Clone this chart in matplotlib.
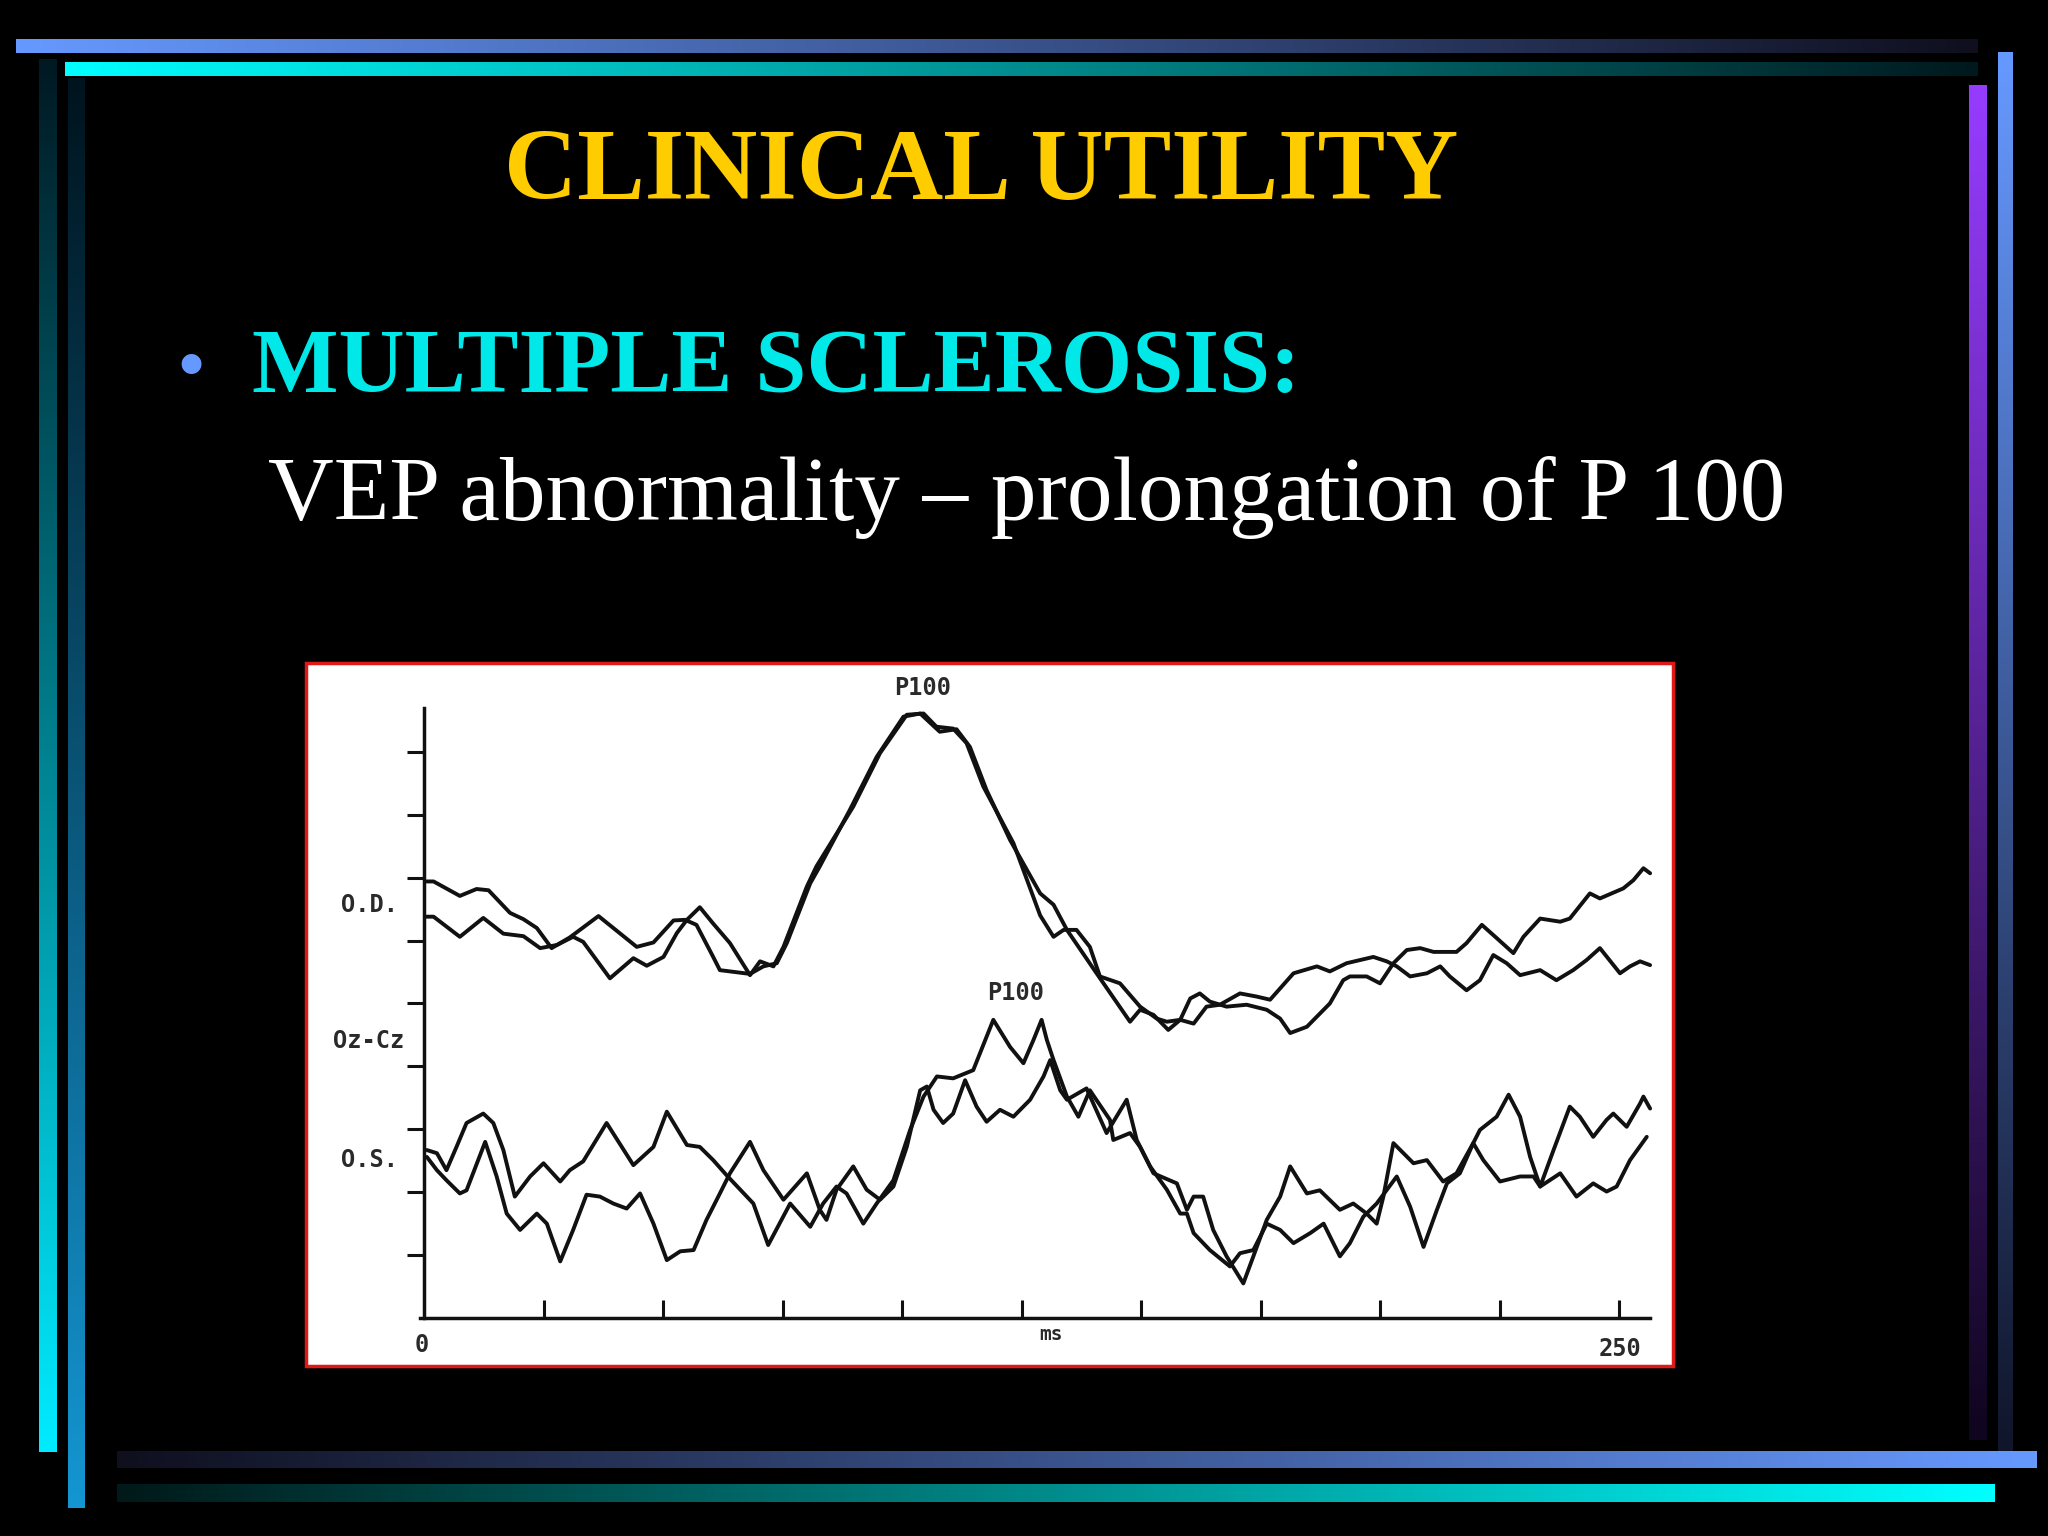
import numpy as np
import matplotlib
matplotlib.use('Agg')
import matplotlib.pyplot as plt
from matplotlib.patches import Rectangle

# VEP traces, time in ms, amplitude in axis-tick units
od_a_t = [0.5, 2.0, 7.5, 11.0, 13.5, 18.0, 20.8, 23.6, 26.7, 30.5, 36.5, 44.5, 48.0,
          52.2, 54.6, 57.0, 60.5, 61.9, 64.0, 68.2, 71.0, 73.8, 75.9, 80.8, 82.8,
          89.1, 94.7, 100.3, 103.8, 107.9, 111.4, 114.2, 117.7, 122.6, 128.9, 131.7,
          134.5, 140.7, 147.7, 149.8, 152.6, 155.7, 158.2, 160.3, 162.3, 164.4, 167.9,
          172.1, 176.3, 179.1, 181.2, 184.7, 189.5, 192.3, 193.7, 197.2, 200.0, 202.8,
          205.6, 208.4, 211.2, 216.0, 218.1, 221.3, 224.4, 227.9, 230.0, 233.5, 237.7,
          239.7, 243.9, 246.0, 250.9, 253.0, 255.1, 256.5]
od_a_y = [6.94, 6.94, 6.71, 6.82, 6.80, 6.44, 6.34, 6.20, 5.88, 6.05, 6.39, 5.90, 5.97,
          6.32, 6.33, 6.25, 5.74, 5.53, 5.51, 5.47, 5.59, 5.64, 5.96, 6.91, 7.18,
          8.08, 8.92, 9.56, 9.61, 9.32, 9.36, 9.08, 8.39, 7.60, 6.75, 6.57,
          6.17, 5.48, 4.71, 4.90, 4.82, 4.58, 4.74, 5.08, 5.16, 5.03, 4.95,
          4.98, 4.90, 4.76, 4.53, 4.63, 5.00, 5.37, 5.43, 5.43, 5.32, 5.64,
          5.85, 5.88, 5.82, 5.82, 5.96, 6.25, 6.04, 5.80, 6.06, 6.35, 6.30,
          6.35, 6.75, 6.67, 6.83, 6.96, 7.15, 7.07]

od_b_t = [0.5, 2.0, 7.5, 12.4, 16.6, 20.8, 24.3, 27.8, 31.2, 33.3, 38.9, 43.8, 46.6,
          50.1, 52.9, 55.0, 57.7, 60.5, 64.0, 68.2, 70.3, 73.1, 75.2, 80.1, 82.1,
          89.8, 95.4, 101.0, 104.5, 107.2, 110.7, 113.5, 117.0, 123.3, 128.9, 131.7,
          133.8, 136.5, 139.3, 141.4, 145.6, 149.8, 153.3, 155.4, 158.2, 161.0, 163.7,
          166.5, 170.7, 174.2, 177.0, 181.9, 186.8, 189.5, 193.0, 198.6, 201.4, 203.5,
          206.3, 209.8, 212.6, 214.6, 218.1, 220.9, 223.7, 226.5, 229.3, 233.5, 236.9,
          240.4, 243.2, 246.0, 250.2, 252.3, 254.4, 256.5]
od_b_y = [6.38, 6.38, 6.06, 6.36, 6.11, 6.07, 5.88, 5.93, 6.06, 5.98, 5.40, 5.72, 5.60,
          5.74, 6.12, 6.33, 6.53, 6.27, 5.96, 5.45, 5.67, 5.59, 5.90, 6.86, 7.18,
          8.13, 8.98, 9.59, 9.61, 9.40, 9.37, 9.14, 8.45, 7.55, 6.40, 6.06,
          6.17, 6.17, 5.90, 5.43, 5.32, 4.95, 4.76, 4.71, 4.74, 4.68, 4.95,
          4.98, 5.16, 5.11, 5.06, 5.48, 5.59, 5.51, 5.64, 5.74, 5.67, 5.59,
          5.43, 5.48, 5.59, 5.43, 5.21, 5.37, 5.77, 5.64, 5.45, 5.53, 5.37,
          5.53, 5.69, 5.88, 5.48, 5.59, 5.67, 5.61]

os_a_t = [0.6, 2.7, 4.7, 6.8, 8.9, 12.4, 14.5, 16.6, 19.0, 22.2, 25.0, 28.5, 30.5,
          33.3, 38.2, 43.8, 48.0, 50.8, 55.0, 57.7, 60.5, 63.3, 68.9, 72.0, 76.6,
          80.8, 83.5, 86.3, 88.4, 91.9, 94.7, 98.2, 101.7, 104.5, 107.3, 110.7, 114.9,
          119.1, 122.6, 125.4, 127.5, 129.2, 130.3, 131.7, 134.5, 136.9, 139.3, 143.5,
          144.2, 147.7, 149.8, 152.6, 157.5, 159.6, 161.0, 163.0, 165.1, 167.9, 171.4,
          173.5, 176.3, 179.1, 181.2, 184.7, 187.4, 191.6, 194.4, 197.2, 199.3, 200.7,
          202.8, 207.0, 209.8, 213.2, 216.0, 219.5, 220.9, 224.4, 226.9, 229.3, 231.4,
          233.5, 236.3, 239.7, 241.8, 244.6, 247.4, 248.8, 251.6, 254.4, 255.1, 256.5]
os_a_y = [2.67, 2.62, 2.35, 2.72, 3.10, 3.25, 3.10, 2.67, 1.93, 2.25, 2.46, 2.17, 2.35,
          2.49, 3.10, 2.43, 2.72, 3.28, 2.75, 2.72, 2.51, 2.27, 1.82, 1.16, 1.82,
          1.45, 1.82, 2.09, 1.98, 1.50, 1.82, 2.19, 2.99, 3.52, 3.84, 3.81, 3.94,
          4.74, 4.31, 4.05, 4.42, 4.74, 4.42, 4.10, 3.52, 3.20, 3.62, 3.15,
          2.83, 2.94, 2.72, 2.30, 2.14, 1.72, 1.93, 1.93, 1.40, 0.98, 0.55,
          0.98, 1.56, 1.93, 2.41, 1.98, 2.03, 1.72, 1.82, 1.66, 1.50, 1.93,
          2.78, 2.46, 2.51, 2.17, 2.30, 2.78, 2.99, 3.20, 3.55, 3.20, 2.56,
          2.09, 2.67, 3.36, 3.20, 2.88, 3.15, 3.25, 3.04, 3.41, 3.52, 3.33]

os_b_t = [0.6, 2.7, 4.7, 7.5, 8.9, 12.8, 15.2, 17.3, 20.1, 23.6, 25.7, 28.5, 31.2,
          34.0, 36.8, 39.6, 42.4, 45.2, 48.0, 50.8, 53.6, 56.4, 59.1, 61.9, 64.0,
          68.2, 71.0, 75.2, 80.1, 82.8, 84.2, 86.3, 89.8, 92.6, 95.4, 98.2, 101.0,
          103.8, 105.2, 106.6, 108.6, 110.7, 113.2, 115.6, 117.7, 120.5, 123.3, 126.8,
          129.6, 131.0, 133.1, 134.5, 138.6, 142.8, 147.0, 149.1, 151.9, 155.4, 158.2,
          159.6, 161.0, 164.4, 168.6, 170.7, 173.5, 176.3, 179.1, 181.9, 185.4, 188.2,
          191.6, 193.7, 196.5, 199.3, 203.5, 206.3, 209.1, 211.9, 214.0, 216.7, 219.5,
          221.6, 225.1, 229.3, 232.1, 233.5, 237.7, 241.1, 244.6, 247.4, 249.5, 252.3,
          255.8]
os_b_y = [2.56, 2.35, 2.19, 1.98, 2.03, 2.80, 2.25, 1.66, 1.40, 1.66, 1.50, 0.90, 1.40,
          1.96, 1.93, 1.82, 1.74, 1.98, 1.50, 0.92, 1.06, 1.08, 1.56, 1.98, 2.30,
          2.80, 2.35, 1.88, 2.30, 1.72, 1.56, 2.04, 2.41, 2.04, 1.88, 2.09, 2.72,
          3.62, 3.68, 3.31, 3.10, 3.25, 3.78, 3.36, 3.12, 3.31, 3.20, 3.47,
          3.84, 4.10, 3.62, 3.47, 3.65, 2.94, 3.47, 2.83, 2.41, 2.04, 1.66,
          1.66, 1.35, 1.08, 0.82, 1.03, 1.08, 1.50, 1.40, 1.19, 1.35, 1.50,
          0.98, 1.19, 1.61, 1.82, 2.25, 1.77, 1.13, 1.72, 2.14, 2.30, 2.78,
          2.51, 2.17, 2.25, 2.25, 2.09, 2.30, 1.93, 2.14, 2.01, 2.09, 2.51,
          2.88]

x_ticks = [25, 50, 75, 100, 125, 150, 175, 200, 225, 250]
y_ticks = [1, 2, 3, 4, 5, 6, 7, 8, 9]
channel_labels = ['O.D.', 'Oz-Cz', 'O.S.']
channel_label_y = [6.57, 4.40, 2.51]

W, H = 2048, 1536
fig = plt.figure(figsize=(W / 100, H / 100), dpi=100, facecolor='black')

# slide decoration (pixel coordinates)
bg = fig.add_axes([0, 0, 1, 1])
bg.axis('off')


def hbar(x0, x1, y0, y1, c0, c1):
    g = np.linspace(0, 1, 256)[None, :, None]
    img = np.array(c0)[None, None, :] * (1 - g) + np.array(c1)[None, None, :] * g
    bg.imshow(img / 255, extent=(x0, x1, y1, y0), aspect='auto', interpolation='bilinear')


def vbar(x0, x1, y0, y1, c0, c1):
    g = np.linspace(0, 1, 256)[:, None, None]
    img = np.array(c0)[None, None, :] * (1 - g) + np.array(c1)[None, None, :] * g
    bg.imshow(img / 255, extent=(x0, x1, y1, y0), aspect='auto', interpolation='bilinear')


vbar(39, 57, 59, 1452, (0, 25, 35), (0, 235, 255))
vbar(68, 85, 78, 1508, (0, 20, 30), (20, 150, 210))
vbar(1969, 1987, 85, 1440, (150, 60, 255), (15, 5, 30))
vbar(1998, 2013, 52, 1465, (102, 153, 255), (15, 20, 40))
hbar(16, 1978, 39, 53, (102, 153, 255), (15, 15, 30))
hbar(65, 1978, 62, 76, (0, 255, 255), (0, 25, 30))
hbar(117, 2037, 1451, 1468, (15, 15, 30), (102, 153, 255))
hbar(117, 1995, 1484, 1502, (0, 25, 25), (0, 255, 255))
bg.set_xlim(0, W)
bg.set_ylim(H, 0)

bg.add_patch(Rectangle((306, 663), 1367, 703, facecolor='white',
                       edgecolor='#e01818', lw=2.5))

fig.text(0.479, 0.8704, 'CLINICAL UTILITY', color='#ffcc00', fontsize=73,
         fontweight='bold', family='Liberation Serif', ha='center', va='baseline')
fig.text(0.0933, 0.7448, '•', color='#6699ff', fontsize=60,
         family='Liberation Serif', ha='center', va='baseline')
fig.text(0.1230, 0.7448, 'MULTIPLE SCLEROSIS:', color='#00e8e8', fontsize=66,
         fontweight='bold', family='Liberation Serif', ha='left', va='baseline')
fig.text(0.1309, 0.6615, 'VEP abnormality – prolongation of P 100', color='white',
         fontsize=65.6, family='Liberation Serif', ha='left', va='baseline')

# the VEP chart
ax = fig.add_axes([424 / W, 218 / H, 1228.5 / W, 647.9 / H])
ax.set_xlim(0, 257)
ax.set_ylim(0, 10.3)
ax.patch.set_alpha(0)
for trace_t, trace_y in [(od_a_t, od_a_y), (od_b_t, od_b_y),
                         (os_a_t, os_a_y), (os_b_t, os_b_y)]:
    ax.plot(trace_t, trace_y, color='#111111', lw=2.8, solid_joinstyle='round',
            solid_capstyle='round')

for s in ['top', 'right']:
    ax.spines[s].set_visible(False)
ax.spines['left'].set_bounds(0, 9.7)
ax.spines['bottom'].set_bounds(-0.8, 256.5)
for s in ['left', 'bottom']:
    ax.spines[s].set_linewidth(2.5)
    ax.spines[s].set_color('#111111')
ax.set_xticks(x_ticks)
ax.set_yticks(y_ticks)
ax.tick_params(axis='x', direction='in', length=13, width=2.2, color='#111111',
               labelbottom=False)
ax.tick_params(axis='y', direction='out', length=12, width=2.2, color='#111111',
               labelleft=False)

lab = dict(family='DejaVu Sans Mono', fontweight='bold', color='#2a2a2a',
           fontsize=17, ha='center', va='center', clip_on=False)
for name, yv in zip(channel_labels, channel_label_y):
    ax.text(-11.5, yv, name, **lab)
ax.text(104.4, 10.02, 'P100', **lab)
ax.text(123.8, 5.17, 'P100', **lab)
ax.text(-0.4, -0.43, '0', **lab)
ax.text(250.2, -0.49, '250', **lab)
ax.text(131.2, -0.27, 'ms', **dict(lab, fontsize=14))

fig.savefig('out.png', dpi=100, facecolor='black')
